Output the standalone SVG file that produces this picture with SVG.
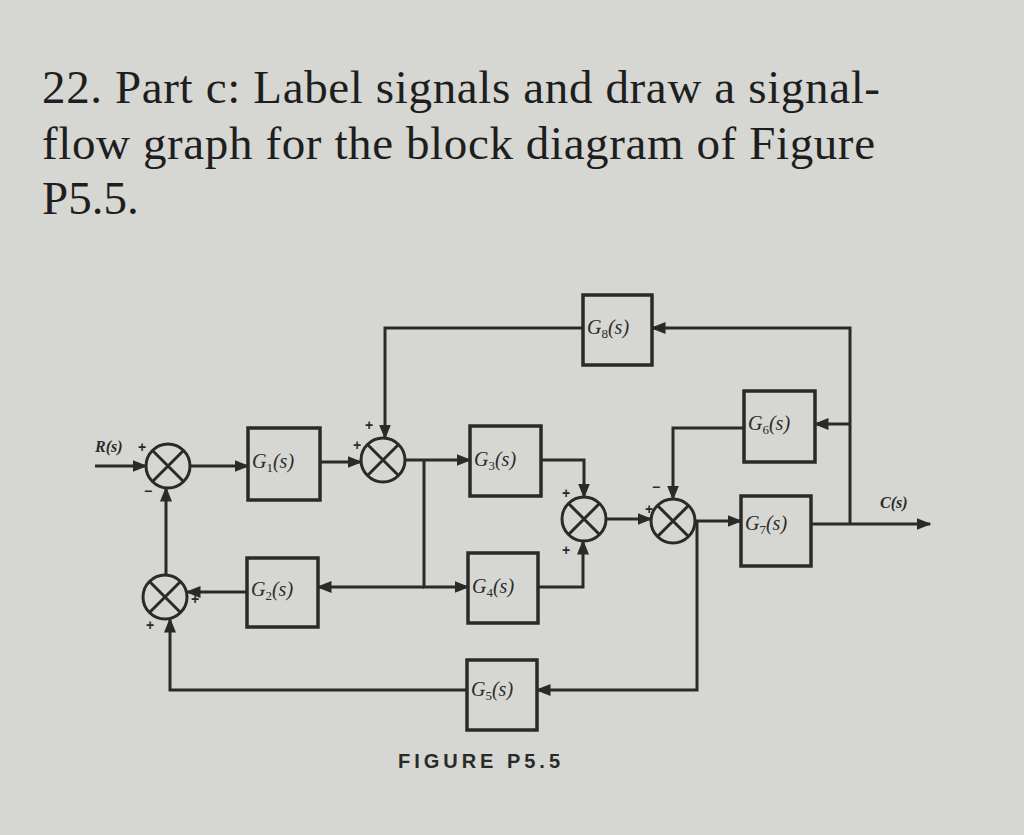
<svg xmlns="http://www.w3.org/2000/svg" width="1024" height="835" viewBox="0 0 1024 835">
<defs>
<marker id="a" viewBox="0 0 10 10" refX="9" refY="5" markerWidth="5" markerHeight="5" orient="auto"><path d="M0,1 L10,5 L0,9 z" fill="#2a2a2a"/></marker>
<style>
.w{fill:none;stroke:#2a2a2a;stroke-width:3}
.b{fill:none;stroke:#2a2a2a;stroke-width:3.5}
.g{font-family:"Liberation Serif",serif;font-style:italic;font-size:20px;fill:#2a2a2a}
.n{font-style:normal;font-size:13px}
.s{font-family:"Liberation Sans",sans-serif;font-weight:bold;font-size:14px;fill:#2a2a2a}
.t{font-family:"Liberation Serif",serif;font-size:47px;fill:#1e1e1e}
</style>
</defs>
<rect width="1024" height="835" fill="#d6d6d2"/>
<text class="t" x="42" y="103" textLength="838">22. Part c: Label signals and draw a signal-</text>
<text class="t" x="42" y="159" textLength="833">flow graph for the block diagram of Figure</text>
<text class="t" x="42" y="214">P5.5.</text>
<g id="connectors">
<path class="w" d="M95,466 H146" marker-end="url(#a)"/>
<path class="w" d="M190,466 H248" marker-end="url(#a)"/>
<path class="w" d="M320,462 H361" marker-end="url(#a)"/>
<path class="w" d="M405,460 H470" marker-end="url(#a)"/>
<path class="w" d="M424,460 V587 H468" marker-end="url(#a)"/>
<path class="w" d="M424,587 H318" marker-end="url(#a)"/>
<path class="w" d="M247,592 H187" marker-end="url(#a)"/>
<path class="w" d="M541,460 H584 V497" marker-end="url(#a)"/>
<path class="w" d="M538,587 H583 V541" marker-end="url(#a)"/>
<path class="w" d="M606,519 H651" marker-end="url(#a)"/>
<path class="w" d="M695,521 H741" marker-end="url(#a)"/>
<path class="w" d="M811,524 H930" marker-end="url(#a)"/>
<path class="w" d="M850,524 V328 H652" marker-end="url(#a)"/>
<path class="w" d="M850,424 H815" marker-end="url(#a)"/>
<path class="w" d="M744,428 H673 V499" marker-end="url(#a)"/>
<path class="w" d="M583,328 H385 V438" marker-end="url(#a)"/>
<path class="w" d="M697,521 V690 H537" marker-end="url(#a)"/>
<path class="w" d="M467,690 H170 V619" marker-end="url(#a)"/>
<path class="w" d="M166,575 V488" marker-end="url(#a)"/>
</g>
<g id="sum1"><circle class="w" cx="168" cy="466" r="22"/><path class="w" d="M152,450 L184,482 M184,450 L152,482"/></g>
<g id="sum2"><circle class="w" cx="383" cy="460" r="22"/><path class="w" d="M367,444 L399,476 M399,444 L367,476"/></g>
<g id="sum3"><circle class="w" cx="584" cy="519" r="22"/><path class="w" d="M568,503 L600,535 M600,503 L568,535"/></g>
<g id="sum4"><circle class="w" cx="673" cy="521" r="22"/><path class="w" d="M657,505 L689,537 M689,505 L657,537"/></g>
<g id="sum5"><circle class="w" cx="165" cy="597" r="22"/><path class="w" d="M149,581 L181,613 M181,581 L149,613"/></g>
<g id="G1"><rect class="b" x="248" y="428" width="72" height="72"/><text class="g" x="252" y="468">G<tspan class="n" dy="4">1</tspan><tspan dy="-4">(s)</tspan></text></g>
<g id="G2"><rect class="b" x="247" y="558" width="71" height="69"/><text class="g" x="251" y="596">G<tspan class="n" dy="4">2</tspan><tspan dy="-4">(s)</tspan></text></g>
<g id="G3"><rect class="b" x="470" y="426" width="71" height="70"/><text class="g" x="474" y="466">G<tspan class="n" dy="4">3</tspan><tspan dy="-4">(s)</tspan></text></g>
<g id="G4"><rect class="b" x="468" y="553" width="70" height="70"/><text class="g" x="472" y="593">G<tspan class="n" dy="4">4</tspan><tspan dy="-4">(s)</tspan></text></g>
<g id="G5"><rect class="b" x="467" y="660" width="70" height="70"/><text class="g" x="471" y="696">G<tspan class="n" dy="4">5</tspan><tspan dy="-4">(s)</tspan></text></g>
<g id="G6"><rect class="b" x="744" y="391" width="71" height="71"/><text class="g" x="748" y="430">G<tspan class="n" dy="4">6</tspan><tspan dy="-4">(s)</tspan></text></g>
<g id="G7"><rect class="b" x="741" y="496" width="70" height="70"/><text class="g" x="745" y="530">G<tspan class="n" dy="4">7</tspan><tspan dy="-4">(s)</tspan></text></g>
<g id="G8"><rect class="b" x="583" y="295" width="69" height="70"/><text class="g" x="587" y="334">G<tspan class="n" dy="4">8</tspan><tspan dy="-4">(s)</tspan></text></g>
<g id="labels">
<text class="g" x="95" y="452" style="font-size:16px;font-weight:bold">R(s)</text>
<text class="s" x="138" y="452">+</text>
<text class="s" x="144" y="496">−</text>
<text class="s" x="353" y="450">+</text>
<text class="s" x="365" y="430">+</text>
<text class="s" x="562" y="498">+</text>
<text class="s" x="562" y="555">+</text>
<text class="s" x="645" y="514">+</text>
<text class="s" x="652" y="492">−</text>
<text class="s" x="191" y="604">+</text>
<text class="s" x="146" y="630">+</text>
<text class="g" x="880" y="508" style="font-size:16px;font-weight:bold">C(s)</text>
<text class="s" x="398" y="768" style="font-size:20px" textLength="162">FIGURE P5.5</text>
</g>
</svg>
